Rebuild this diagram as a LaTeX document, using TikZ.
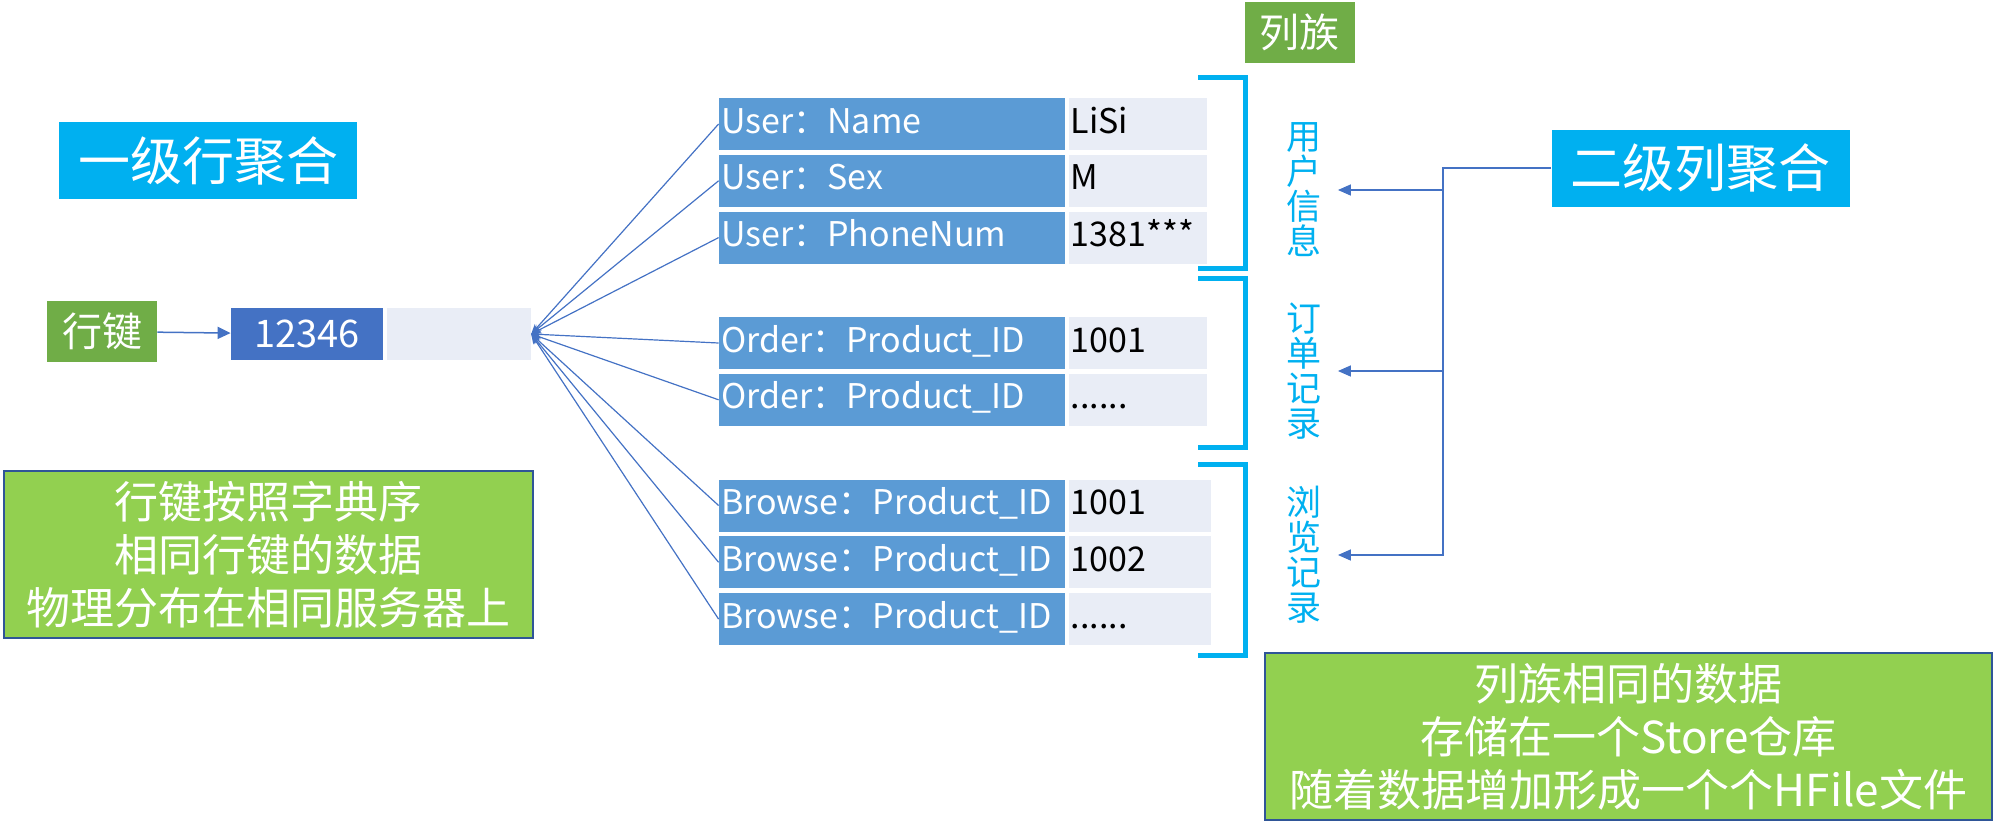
\documentclass[tikz,border=0pt]{standalone}
\usepackage{fontspec}
\setmainfont{Noto Sans CJK SC}
\usepackage{xcolor}
\usetikzlibrary{arrows.meta, positioning}
\definecolor{titlecyan}{HTML}{00B0F0}
\definecolor{taggreen}{HTML}{70AD47}
\definecolor{notegreen}{HTML}{92D050}
\definecolor{noteborder}{HTML}{2F5597}
\definecolor{cellblue}{HTML}{5B9BD5}
\definecolor{celllight}{HTML}{E9EDF6}
\definecolor{keyblue}{HTML}{4472C4}
\tikzset{
    titlebox/.style={
        rectangle,
        fill=titlecyan,
        text=white,
        minimum width=149pt,
        minimum height=38.5pt,
        inner sep=0pt,
        font=\fontsize{26}{26}\selectfont
    },
    tagbox/.style={
        rectangle,
        fill=taggreen,
        text=white,
        minimum width=55pt,
        minimum height=30.5pt,
        inner sep=0pt,
        font=\fontsize{20}{20}\selectfont
    },
    notebox/.style={
        rectangle,
        draw=noteborder,
        line width=1pt,
        fill=notegreen,
        text=white,
        align=center,
        minimum height=83.5pt,
        inner sep=0pt,
        font=\fontsize{22}{26.5}\selectfont
    },
    keycell/.style={
        rectangle,
        fill=cellblue,
        text=white,
        text width=171pt,
        align=left,
        inner xsep=1pt,
        inner ysep=0pt,
        text height=13pt,
        text depth=4pt,
        minimum height=26pt,
        font=\fontsize{17}{17}\selectfont
    },
    valcell/.style={
        keycell,
        fill=celllight,
        text=black,
        text width=67pt
    },
    famlabel/.style={
        text=titlecyan,
        align=center,
        inner xsep=8pt,
        inner ysep=0pt,
        font=\fontsize{17.5}{17.5}\selectfont
    },
    famline/.style={
        draw=titlecyan,
        line width=2.5pt
    },
    connection/.style={
        draw=keyblue,
        line width=0.75pt,
        -{Triangle[length=6.5pt,width=5.5pt]}
    },
    fanline/.style={
        draw=keyblue,
        line width=0.6pt,
        -{Stealth[length=5pt,width=4pt]}
    }
}

\begin{document}
\begin{tikzpicture}[x=1pt, y=-1pt]
\useasboundingbox (0,0) rectangle (999,412.5);

% Titles
\node[titlebox] (lvl1) at (104,80.25) {一级行聚合};
\node[titlebox] (lvl2) at (850.25,84) {二级列聚合};
\node[tagbox] (family) at (649.75,16.25) {列族};

% Row key
\node[tagbox] (rowkey) at (51,165.75) {行键};
\node[rectangle, fill=keyblue, text=white, minimum width=76pt, minimum height=26pt,
      inner sep=0pt, font=\fontsize{19}{19}\selectfont] (keyval) at (153.5,167) {12346};
\node[rectangle, fill=celllight, minimum width=72pt, minimum height=26pt, inner sep=0pt,
      right=1.5pt of keyval] (rowext) {};
\draw[connection, -{Triangle[length=6.5pt,width=6pt]}] (rowkey) -- (keyval);

% Column cells
\node[keycell] (u1) at (446,62) {User：Name};
\node[keycell, below=2pt of u1] (u2) {User：Sex};
\node[keycell, below=2pt of u2] (u3) {User：PhoneNum};
\node[keycell] (o1) at (446,171.5) {Order：Product\_ID};
\node[keycell, below=2pt of o1] (o2) {Order：Product\_ID};
\node[keycell] (b1) at (446,252.75) {Browse：Product\_ID};
\node[keycell, below=2pt of b1] (b2) {Browse：Product\_ID};
\node[keycell, below=2pt of b2] (b3) {Browse：Product\_ID};

\node[valcell, right=1.5pt of u1] (u1v) {LiSi};
\node[valcell, right=1.5pt of u2] (u2v) {M};
\node[valcell, right=1.5pt of u3] (u3v) {1381***};
\node[valcell, right=1.5pt of o1] (o1v) {1001};
\node[valcell, right=1.5pt of o2] (o2v) {......};
\node[valcell, text width=69pt, right=1.5pt of b1] (b1v) {1001};
\node[valcell, text width=69pt, right=1.5pt of b2] (b2v) {1002};
\node[valcell, text width=69pt, right=1.5pt of b3] (b3v) {......};

\foreach \r in {u1,u2,u3,o1,o2,b1,b2,b3}
    \draw[fanline] (\r.west) -- (rowext.east);

% Family brackets
\draw[famline] (599,38.5) -| (622.5,134) -- (599,134);
\draw[famline] (599,139) -| (622.5,223.5) -- (599,223.5);
\draw[famline] (599,232) -| (622.5,327.5) -- (599,327.5);

\node[famlabel] (lab1) at (652,95) {用\\户\\信\\息};
\node[famlabel] (lab2) at (652,185.5) {订\\单\\记\\录};
\node[famlabel] (lab3) at (652,277.5) {浏\\览\\记\\录};

% Second level links
\coordinate (trunk) at (721.5,84);
\draw[connection] (lvl2.west) -- (trunk) |- (lab3.east);
\foreach \l in {lab1,lab2}
    \draw[connection] (trunk |- \l.east) -- (\l.east);

% Notes
\node[notebox, minimum width=264.5pt] (note1) at (134.25,277.25)
    {行键按照字典序\\相同行键的数据\\物理分布在相同服务器上};
\node[notebox, minimum width=363.5pt] (note2) at (814.25,368.25)
    {列族相同的数据\\存储在一个Store仓库\\随着数据增加形成一个个HFile文件};

\end{tikzpicture}
\end{document}
